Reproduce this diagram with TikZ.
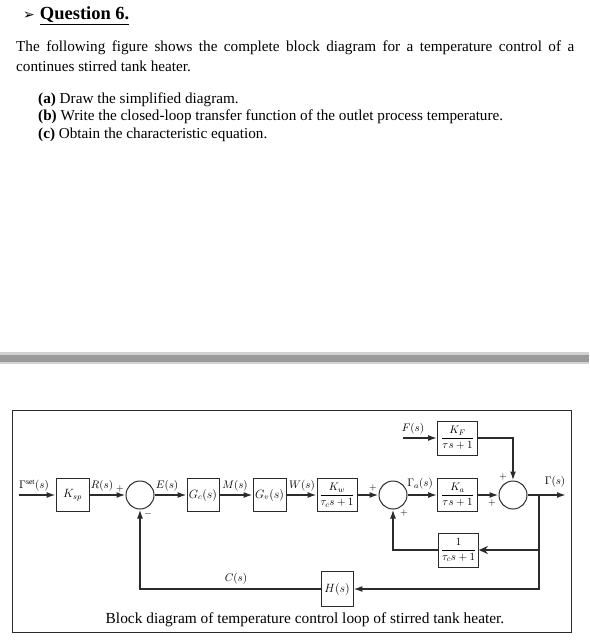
\documentclass[tikz,border=0pt]{standalone}
\usepackage{amsmath}
\usepackage{fontspec}
\setmainfont{Liberation Serif}
\newfontfamily\dingfont{DejaVu Sans}
\usetikzlibrary{arrows.meta,positioning,calc}
\definecolor{cLine}{HTML}{2B2B2B}
\definecolor{cBar}{HTML}{9A9A9A}
\definecolor{cBarEdge}{HTML}{D2D2D2}
\tikzset{
  blk/.style ={draw=cLine, line width=0.8pt, minimum width=33pt, minimum height=33pt,
               inner sep=1pt, font=\fontsize{12}{14}\selectfont},
  wblk/.style={blk, minimum width=40pt, font=\fontsize{11}{13}\selectfont},
  sumj/.style={draw=cLine, line width=1pt, circle, minimum size=28pt, inner sep=0pt},
  sig/.style ={-{Latex[length=9pt,width=6pt]}, line width=1.6pt, draw=cLine},
  fbsig/.style={-{Stealth[length=9pt,width=8pt]}, line width=1.6pt, draw=cLine},
  lbl/.style ={font=\fontsize{11}{13}\selectfont, inner sep=1pt},
  sgn/.style ={font=\fontsize{10}{11}\selectfont, inner sep=0pt},
  txt/.style ={anchor=west, inner sep=0pt, font=\fontsize{15.2}{18}\selectfont},
}

\begin{document}
\begin{tikzpicture}[x=1pt, y=-1pt]
  \useasboundingbox (0,0) rectangle (589,644);
  % question text
  \node[txt, font=\fontsize{18.5}{20}\selectfont] (qh) at (23,16) {{\dingfont\fontsize{14}{14}\selectfont ➢}\hspace{5pt}\textbf{\underline{Question 6.}}};
  \node[txt] (l1) at (16,48) {\makebox[558pt][s]{The following figure shows the complete block diagram for a temperature control of a}};
  \node[txt] (l2) at (16,66) {continues stirred tank heater.};
  \node[txt] (qa) at (38,100) {\textbf{(a)} Draw the simplified diagram.};
  \node[txt] (qb) at (38,117) {\textbf{(b)} Write the closed-loop transfer function of the outlet process temperature.};
  \node[txt] (qc) at (38,135) {\textbf{(c)} Obtain the characteristic equation.};
  % page separator
  \fill[cBarEdge] (0,352) rectangle (589,364);
  \fill[cBar] (0,354.5) rectangle (589,361.5);
  % frame and caption
  \draw[cLine, line width=0.9pt] (12,410) rectangle (571,632);
  \node[font=\fontsize{15.4}{18}\selectfont] (cap) at (305,620) {Block diagram of temperature control loop of stirred tank heater.};
  % blocks
  \node[blk] (ksp) at (72.5,495) {$K_{sp}$};
  \node[sumj] (s1) at (140,495) {};
  \node[blk, minimum width=32pt] (gc) at (203,495) {$G_c(s)$};
  \node[blk] (gv) at (269.5,495) {$G_v(s)$};
  \node[wblk] (kw) at (337,495) {$\dfrac{K_w}{\tau_c s+1}$};
  \node[sumj] (s2) at (393,495) {};
  \node[wblk] (ka) at (457.5,495) {$\dfrac{K_a}{\tau s+1}$};
  \node[sumj] (s3) at (513,495) {};
  \node[wblk, minimum height=34pt] (kp) at (457.5,438) {$\dfrac{K_F}{\tau s+1}$};
  \node[wblk, minimum height=34pt] (tc) at (458.5,550) {$\dfrac{1}{\tau_c s+1}$};
  \node[blk, minimum width=32pt, minimum height=35pt] (h) at (337,589) {$H(s)$};
  % free ends
  \coordinate (tin) at (19,495);
  \coordinate (fin) at (403,438);
  \coordinate (tout) at (566,495);
  \coordinate (br) at (539,495);
  % forward path
  \draw[sig] (tin) -- (ksp);
  \draw[sig] (ksp) -- (s1);
  \draw[sig] (s1) -- (gc);
  \draw[sig] (gc) -- (gv);
  \draw[sig] (gv) -- (kw);
  \draw[sig] (kw) -- (s2);
  \draw[sig] (s2) -- (ka);
  \draw[sig] (ka) -- (s3);
  \draw[sig] (fin) -- (kp);
  \draw[sig] (kp) -| (s3);
  \draw[sig] (s3) -- (tout);
  % feedback paths
  \draw[fbsig] (br) |- (tc);
  \draw[sig] (tc) -| (s2);
  \draw[sig] (br) |- (h);
  \draw[sig] (h) -| (s1);
  % signal labels
  \node[lbl] (lset) at (34,486) {$\Gamma^{\mathrm{set}}(s)$};
  \node[lbl] (lr) at (102,486) {$R(s)$};
  \node[lbl] (le) at (167,486) {$E(s)$};
  \node[lbl] (lm) at (235,486) {$M(s)$};
  \node[lbl] (lw) at (302,486) {$W(s)$};
  \node[lbl] (lga) at (420,484) {$\Gamma_a(s)$};
  \node[lbl] (lf) at (413,429) {$F(s)$};
  \node[lbl] (lg) at (555,482) {$\Gamma(s)$};
  \node[lbl] (lc) at (236,579) {$C(s)$};
  % signs
  \node[sgn] at (120,489) {$+$};
  \node[sgn] at (148,514) {$-$};
  \node[sgn] at (373,488) {$+$};
  \node[sgn] at (404,513) {$+$};
  \node[sgn] at (503,477) {$+$};
  \node[sgn] at (492,503) {$+$};
\end{tikzpicture}
\end{document}
